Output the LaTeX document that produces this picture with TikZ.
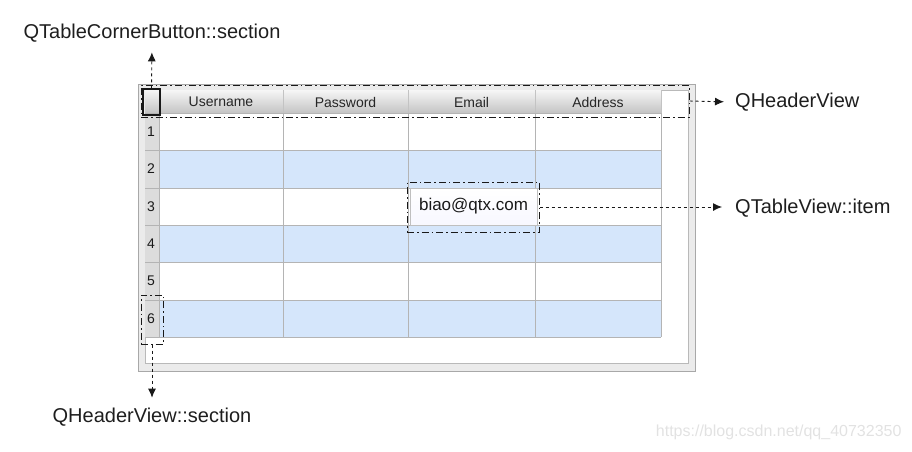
\documentclass[tikz,border=0pt]{standalone}
\usepackage{fontspec}
\setmainfont{Liberation Sans}
\usetikzlibrary{arrows.meta}
\definecolor{frameout}{HTML}{EBEBEB}
\definecolor{frameline}{HTML}{A8A8A8}
\definecolor{gridc}{HTML}{B4B4B4}
\definecolor{rowblue}{HTML}{D5E6FB}
\definecolor{rowhead}{HTML}{DCDCDC}
\definecolor{hdtop}{HTML}{F6F6F6}
\definecolor{hdbot}{HTML}{C4C4C4}
\definecolor{txtc}{HTML}{1E1E1E}
\definecolor{wmark}{HTML}{E2E2E2}
\tikzset{
  dashbox/.style={draw=black!90, line width=1pt, dash pattern=on 7pt off 3pt on 1.5pt off 3pt, rectangle, inner sep=0pt},
  solidbox/.style={draw=black!90, line width=1.2pt, rectangle, inner sep=0pt},
  conn/.style={draw=black!90, line width=0.9pt, dash pattern=on 3pt off 3pt, -{Latex[length=9pt,width=8pt]}},
  lbl/.style={font=\fontsize{20}{24}\selectfont, text=txtc, inner sep=2pt},
  hdtext/.style={font=\fontsize{14}{16}\selectfont, text=black!85},
  numtext/.style={font=\fontsize{14}{16}\selectfont, text=black!90},
}
\begin{document}
\begin{tikzpicture}[x=1pt,y=-1pt]
\useasboundingbox (0,0) rectangle (912,451);
% frames
\draw[frameline, fill=frameout, line width=1pt] (138,84) rectangle (695,371);
\draw[frameline!80, fill=white, line width=1pt] (145,90) rectangle (688,363);
% rows
\foreach \ya/\yb in {150/188, 225/262, 300/337}{
  \fill[rowblue] (159,\ya) rectangle (661,\yb);
}
\fill[rowhead] (145,113) rectangle (159,337);
% grid
\foreach \y in {150,188,225,262,300,337}{
  \draw[gridc, line width=1pt] (145,\y) -- (661,\y);
}
\foreach \x in {159,283,408,535,661}{
  \draw[gridc, line width=1pt] (\x,113) -- (\x,337);
}
% header
\shade[top color=hdtop, bottom color=hdbot] (145,90) rectangle (661,113);
\foreach \x in {159,283,408,535,661}{
  \draw[gridc!80, line width=0.8pt] (\x,90) -- (\x,113);
}
\draw[gridc, line width=0.8pt] (145,113) -- (661,113);
% header texts
\node[hdtext] (h1) at (221,102) {Username};
\node[hdtext] (h2) at (345.5,102) {Password};
\node[hdtext] (h3) at (471.5,102) {Email};
\node[hdtext] (h4) at (598,102) {Address};
% row numbers
\node[numtext] (r1) at (151,132) {1};
\node[numtext] (r2) at (151,169) {2};
\node[numtext] (r3) at (151,207) {3};
\node[numtext] (r4) at (151,244) {4};
\node[numtext] (r5) at (151,281) {5};
\node[numtext] (r6) at (151,319) {6};
% item cell
\node[rectangle, draw=black!25, top color=white, bottom color=black!7!blue!3!white,
      minimum width=127pt, minimum height=37pt, inner sep=0pt,
      font=\fontsize{17}{20}\selectfont, text=black!90] (cell) at (473.5,206.5) {biao@qtx.com};
% highlight boxes
\node[dashbox, minimum width=548pt, minimum height=32pt] (hvbox) at (415,101) {};
\node[solidbox, minimum width=17pt, minimum height=26pt] (cornerbox) at (151.5,102) {};
\node[dashbox, minimum width=22pt, minimum height=49pt] (secbox) at (152,319.5) {};
\node[dashbox, minimum width=132pt, minimum height=50pt] (itembox) at (473,207) {};
% labels
\node[lbl] (lblCorner) at (152,33) {QTableCornerButton::section};
\node[lbl, anchor=west] (lblHV) at (733,102) {QHeaderView};
\node[lbl, anchor=west] (lblItem) at (733,208) {QTableView::item};
\node[lbl] (lblSec) at (152,417) {QHeaderView::section};
% connectors
\draw[conn, shorten >=8pt] (cornerbox.north) -- (lblCorner.south);
\draw[conn, shorten >=8pt] (secbox.south) -- (lblSec.north);
\draw[conn, shorten >=9pt] (hvbox.east) -- (lblHV.west);
\draw[conn, shorten >=11pt] (itembox.east) -- (lblItem.west |- itembox.east);
% watermark
\node[font=\fontsize{16}{19}\selectfont, text=wmark, anchor=east] (wm) at (905,432) {https://blog.csdn.net/qq\_40732350};
\end{tikzpicture}
\end{document}
